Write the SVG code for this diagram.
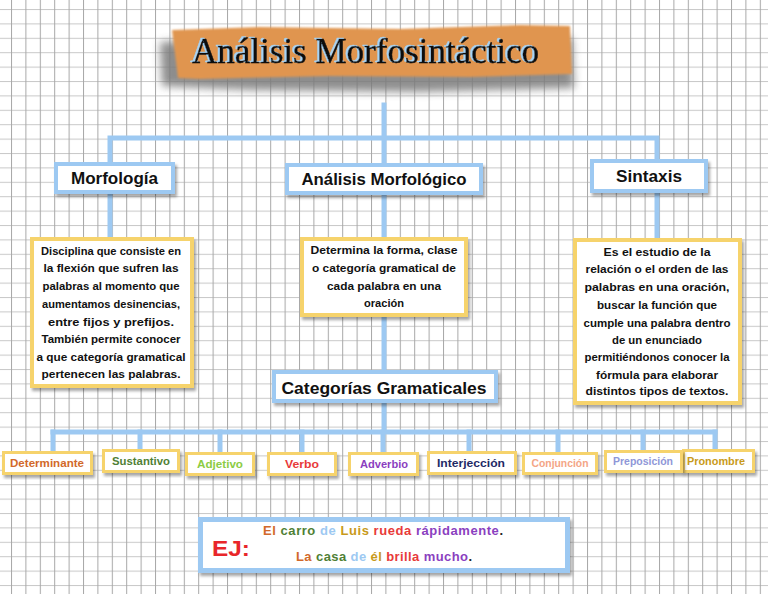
<svg xmlns="http://www.w3.org/2000/svg" width="768" height="594" viewBox="0 0 768 594">
<defs>
<pattern id="grid" x="11" y="9" width="14.4" height="14.4" patternUnits="userSpaceOnUse">
<rect width="14.4" height="14.4" fill="#ffffff"/>
<line x1="0" y1="0.5" x2="14.4" y2="0.5" stroke="#c9c9c9" stroke-width="1"/>
<line x1="0.5" y1="0" x2="0.5" y2="14.4" stroke="#a8a8a8" stroke-width="1"/>
</pattern>
<filter id="sh" x="-10%" y="-20%" width="130%" height="150%">
<feDropShadow dx="2" dy="3" stdDeviation="1.6" flood-color="#000" flood-opacity="0.35"/>
</filter>
<filter id="blueSh" x="-5%" y="-20%" width="110%" height="140%">
<feDropShadow dx="-2" dy="-1" stdDeviation="0.3" flood-color="#a6d3f5" flood-opacity="1"/>
</filter>
<filter id="blurBig" x="-20%" y="-50%" width="140%" height="200%"><feGaussianBlur stdDeviation="4"/></filter>
<filter id="blurSm" x="-5%" y="-20%" width="110%" height="140%"><feGaussianBlur stdDeviation="1.2"/></filter>
<style>
.conn{fill:none;stroke:#9dc9f2;stroke-width:5;stroke-linecap:square}
.bbox{fill:#ffffff;stroke:#9dc9f2;stroke-width:4;filter:url(#sh)}
.ybox{fill:#ffffff;stroke:#f6d36c;stroke-width:4;filter:url(#sh)}
.cbox{fill:#ffffff;stroke:#f6d36c;stroke-width:3;filter:url(#sh)}
.ebox{fill:#ffffff;stroke:#9dc9f2;stroke-width:5;filter:url(#sh)}
.hd{font-family:"Liberation Sans",Arial,sans-serif;font-weight:bold;font-size:16px;fill:#111;text-anchor:middle}
.ds{font-family:"Liberation Sans",Arial,sans-serif;font-weight:bold;font-size:10.5px;fill:#111;text-anchor:middle}
.ct{font-family:"Liberation Sans",Arial,sans-serif;font-weight:bold;font-size:11px;text-anchor:middle}
.ex{font-family:"Liberation Sans",Arial,sans-serif;font-weight:bold;font-size:13px;text-anchor:middle}
.c1{fill:#d2692a}.c2{fill:#4f7f35}.c3{fill:#8ccc44}.c4{fill:#e83a3a}.c5{fill:#8b3fbf}.c6{fill:#1f2a66}.c7{fill:#f4a585}.c8{fill:#8f97d8}.c9{fill:#c89a1a}.cb{fill:#9dc9f2}.ck{fill:#222}
</style>
</defs>
<rect width="768" height="594" fill="url(#grid)"/>

<g id="title">
<path d="M160,42 L300,38 L460,40 L572,38 L574,88 L420,92 L250,90 L162,86 Z" fill="#7a7a7a" opacity="0.85" filter="url(#blurBig)"/>
<path d="M172,30 L260,27 L400,29 L520,25 L570,26 L572,74 L470,77 L330,76 L200,79 L178,78 Z" fill="#e0954f" filter="url(#blurSm)"/>
<text x="365.5" y="63" font-family="Liberation Serif,'Times New Roman',serif" font-size="35" fill="#111" stroke="#111" stroke-width="0.5" text-anchor="middle" filter="url(#blueSh)">Análisis Morfosintáctico</text>
</g>

<g id="connectors">
<path class="conn" d="M384,105 V163 M110,138 H657 M110,138 V162 M657,138 V159"/>
<path class="conn" d="M110,194 V237 M384,195 V237 M384,317 V370 M657,193 V238"/>
<path class="conn" d="M384,403 V432 M53,432 H715"/>
<path class="conn" d="M53,432 V450 M140,432 V448 M220,432 V451 M302,432 V451 M383,432 V451 M469,432 V450 M558,432 V451 M643,432 V449 M715,432 V448"/>
</g>

<g id="morfologia">
<rect class="bbox" x="56" y="164" width="117" height="28"/>
<text class="hd" x="114.5" y="184" textLength="87" lengthAdjust="spacingAndGlyphs">Morfología</text>
</g>
<g id="analisis-morfologico">
<rect class="bbox" x="287" y="165" width="194" height="28"/>
<text class="hd" x="384" y="185" textLength="165" lengthAdjust="spacingAndGlyphs">Análisis Morfológico</text>
</g>
<g id="sintaxis">
<rect class="bbox" x="592" y="161" width="114" height="30"/>
<text class="hd" x="649" y="182" textLength="66" lengthAdjust="spacingAndGlyphs">Sintaxis</text>
</g>

<g id="morfologia-desc">
<rect class="ybox" x="32" y="239" width="160" height="147"/>
<text class="ds" x="111" y="255" textLength="140" lengthAdjust="spacingAndGlyphs">Disciplina que consiste en</text>
<text class="ds" x="111" y="272" textLength="135" lengthAdjust="spacingAndGlyphs">la flexión que sufren las</text>
<text class="ds" x="111" y="290" textLength="137" lengthAdjust="spacingAndGlyphs">palabras al momento que</text>
<text class="ds" x="111" y="308" textLength="138" lengthAdjust="spacingAndGlyphs">aumentamos desinencias,</text>
<text class="ds" x="111" y="326" textLength="126" lengthAdjust="spacingAndGlyphs">entre fijos y prefijos.</text>
<text class="ds" x="111" y="343" textLength="139" lengthAdjust="spacingAndGlyphs">También permite conocer</text>
<text class="ds" x="111" y="361" textLength="149" lengthAdjust="spacingAndGlyphs">a que categoría gramatical</text>
<text class="ds" x="111" y="378" textLength="139" lengthAdjust="spacingAndGlyphs">pertenecen las palabras.</text>
</g>

<g id="analisis-desc">
<rect class="ybox" x="302" y="239" width="164" height="76"/>
<text class="ds" x="384" y="254" textLength="147" lengthAdjust="spacingAndGlyphs">Determina la forma, clase</text>
<text class="ds" x="384" y="272" textLength="144" lengthAdjust="spacingAndGlyphs">o categoría gramatical de</text>
<text class="ds" x="384" y="290" textLength="114" lengthAdjust="spacingAndGlyphs">cada palabra en una</text>
<text class="ds" x="384" y="307" textLength="40" lengthAdjust="spacingAndGlyphs">oración</text>
</g>

<g id="sintaxis-desc">
<rect class="ybox" x="575" y="240" width="165" height="163"/>
<text class="ds" x="657" y="256" textLength="107" lengthAdjust="spacingAndGlyphs">Es el estudio de la</text>
<text class="ds" x="657" y="273" textLength="143" lengthAdjust="spacingAndGlyphs">relación o el orden de las</text>
<text class="ds" x="657" y="291" textLength="145" lengthAdjust="spacingAndGlyphs">palabras en una oración,</text>
<text class="ds" x="657" y="309" textLength="120" lengthAdjust="spacingAndGlyphs">buscar la función que</text>
<text class="ds" x="657" y="327" textLength="147" lengthAdjust="spacingAndGlyphs">cumple una palabra dentro</text>
<text class="ds" x="657" y="344" textLength="90" lengthAdjust="spacingAndGlyphs">de un enunciado</text>
<text class="ds" x="657" y="361" textLength="145" lengthAdjust="spacingAndGlyphs">permitiéndonos conocer la</text>
<text class="ds" x="657" y="379" textLength="122" lengthAdjust="spacingAndGlyphs">fórmula para elaborar</text>
<text class="ds" x="657" y="395" textLength="143" lengthAdjust="spacingAndGlyphs">distintos tipos de textos.</text>
</g>

<g id="categorias">
<rect class="bbox" x="274" y="372" width="222" height="29"/>
<text class="hd" x="384" y="394" font-size="17" textLength="205" lengthAdjust="spacingAndGlyphs">Categorías Gramaticales</text>
</g>

<g id="determinante">
<rect class="cbox" x="3.5" y="452.5" width="88" height="21"/>
<text class="ct c1" x="47" y="467" textLength="74" lengthAdjust="spacingAndGlyphs">Determinante</text>
</g>
<g id="sustantivo">
<rect class="cbox" x="103.5" y="450.5" width="75" height="21"/>
<text class="ct c2" x="141" y="465" textLength="58" lengthAdjust="spacingAndGlyphs">Sustantivo</text>
</g>
<g id="adjetivo">
<rect class="cbox" x="186.5" y="453.5" width="67" height="21"/>
<text class="ct c3" x="220" y="468" textLength="46" lengthAdjust="spacingAndGlyphs">Adjetivo</text>
</g>
<g id="verbo">
<rect class="cbox" x="268.5" y="453.5" width="67" height="21"/>
<text class="ct c4" x="302" y="468" textLength="34" lengthAdjust="spacingAndGlyphs">Verbo</text>
</g>
<g id="adverbio">
<rect class="cbox" x="349.5" y="453.5" width="68" height="21"/>
<text class="ct c5" x="384" y="468" textLength="48" lengthAdjust="spacingAndGlyphs">Adverbio</text>
</g>
<g id="interjeccion">
<rect class="cbox" x="428.5" y="452.5" width="87" height="21"/>
<text class="ct c6" x="471" y="467" textLength="68" lengthAdjust="spacingAndGlyphs">Interjección</text>
</g>
<g id="conjuncion">
<rect class="cbox" x="523.5" y="453.5" width="73" height="20"/>
<text class="ct c7" x="560" y="467" textLength="57" lengthAdjust="spacingAndGlyphs">Conjunción</text>
</g>
<g id="pronombre">
<rect class="cbox" x="683.5" y="450.5" width="70" height="21"/>
<text class="ct c9" x="716" y="465" textLength="58" lengthAdjust="spacingAndGlyphs">Pronombre</text>
</g>
<g id="preposicion">
<rect class="cbox" x="605.5" y="451.5" width="76" height="20"/>
<text class="ct c8" x="643" y="465" textLength="60" lengthAdjust="spacingAndGlyphs">Preposición</text>
</g>

<g id="ejemplo">
<rect class="ebox" x="200.5" y="519.5" width="367" height="51"/>
<text x="231" y="556" font-family="Liberation Sans,Arial,sans-serif" font-weight="bold" font-size="22" fill="#e8262a" text-anchor="middle" textLength="38" lengthAdjust="spacingAndGlyphs">EJ:</text>
<text class="ex" x="383" y="535" textLength="240" lengthAdjust="spacing"><tspan class="c1">El</tspan> <tspan class="c2">carro</tspan> <tspan class="cb">de</tspan> <tspan class="c9">Luis</tspan> <tspan class="c4">rueda</tspan> <tspan class="c5">rápidamente</tspan><tspan class="ck">.</tspan></text>
<text class="ex" x="384" y="561" textLength="176" lengthAdjust="spacing"><tspan class="c1">La</tspan> <tspan class="c2">casa</tspan> <tspan class="cb">de</tspan> <tspan class="c9">él</tspan> <tspan class="c4">brilla</tspan> <tspan class="c5">mucho</tspan><tspan class="ck">.</tspan></text>
</g>
</svg>
